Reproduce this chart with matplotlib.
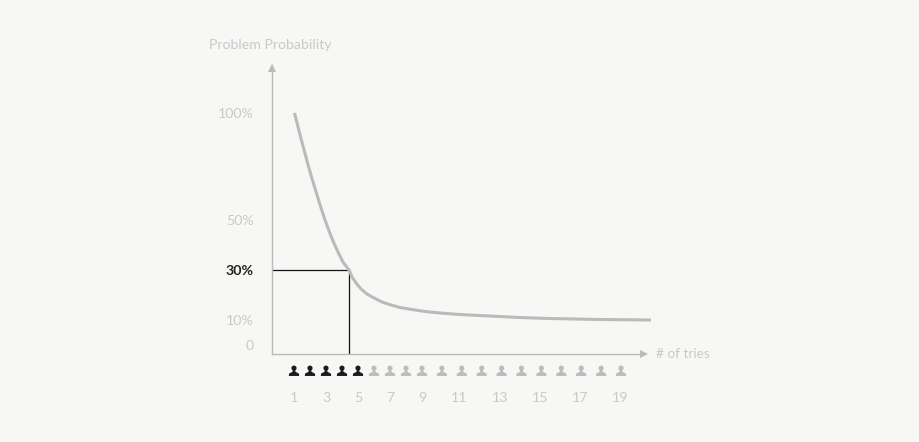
import numpy as np
import matplotlib
matplotlib.use("Agg")
import matplotlib.pyplot as plt
from matplotlib.path import Path

# curve: tries, probability %
curve_x = [1.03, 1.19, 1.38, 1.63, 1.88, 2.13, 2.38, 2.63, 2.94, 3.19, 3.44, 3.75, 4.06,
           4.44, 4.63, 4.88, 5.19, 5.56, 6.0, 6.5, 7.06, 7.63, 8.38, 9.15, 9.9, 10.9,
           11.9, 12.9, 13.9, 15.4, 17.9, 20.5]
curve_y = [100, 95.3, 89.7, 82.7, 75.7, 69.2, 63.1, 57.0, 50, 45.6, 41.6, 37.2, 33.2,
           30, 27.2, 24.8, 22.4, 20.4, 18.8, 17.2, 16, 15, 14.2, 13.4, 12.8, 12.2,
           11.8, 11.4, 11, 10.6, 10.2, 10]

y_ticks = [0, 10, 30, 50, 100]
y_labels = ["0", "10%", "30%", "50%", "100%"]
x_ticks = [1, 3, 5, 7, 9, 10.85, 12.9, 14.95, 16.95, 18.95]
x_labels = ["1", "3", "5", "7", "9", "11", "13", "15", "17", "19"]
people = list(range(1, 20))
dark_people = 5
mark_x = 4.44
mark_y = 30

# the original axes are not evenly spaced, these anchors tie values to pixels
x_val = [-0.375, 1, 9, 19, 20.5]
x_px = [272, 294, 422, 621, 651]
y_val = [-3.6, 0, 50, 100, 122.4]
y_px = [354, 345, 220, 113, 65]


def stretch(v, a, b):
    return np.interp(np.asarray(v, dtype=float), a, b)


GREY = "#c9c9c9"
LINE = "#bababa"
BG = "#f7f7f6"

plt.rcParams["font.family"] = ["Lato", "DejaVu Sans"]

fig = plt.figure(figsize=(9.2, 4.42), dpi=100, facecolor=BG)
ax = fig.add_axes([272 / 920, 1 - 354 / 442, (651 - 272) / 920, (354 - 65) / 442])
ax.set_facecolor("none")
y_up = [-p for p in y_px]
ax.set_xscale("function", functions=(lambda v: stretch(v, x_val, x_px),
                                     lambda v: stretch(v, x_px, x_val)))
ax.set_yscale("function", functions=(lambda v: stretch(v, y_val, y_up),
                                     lambda v: stretch(v, y_up, y_val)))
ax.set_xlim(x_val[0], x_val[-1])
ax.set_ylim(y_val[0], y_val[-1])

for s in ["top", "right"]:
    ax.spines[s].set_visible(False)
for s in ["left", "bottom"]:
    ax.spines[s].set_color(LINE)
    ax.spines[s].set_linewidth(1)
ax.spines["bottom"].set_bounds(x_val[0], 20.2)

ax.plot(curve_x, curve_y, color=LINE, lw=2.2, solid_capstyle="butt", solid_joinstyle="round",
        clip_on=False, zorder=3)

# black guide lines to the curve
ax.plot([x_val[0], mark_x], [mark_y, mark_y], color="#111111", lw=0.9, zorder=2)
ax.plot([mark_x, mark_x], [y_val[0], mark_y], color="#111111", lw=0.9, zorder=2)

ax.set_yticks(y_ticks)
ax.set_yticklabels(y_labels)
ax.tick_params(axis="y", length=0, pad=13, labelsize=10.2, labelcolor=GREY)
ax.get_yticklabels()[2].set_color("#222222")
ax.get_yticklabels()[2].set_fontweight("bold")
ax.set_xticks(x_ticks)
ax.set_xticklabels(x_labels)
ax.tick_params(axis="x", length=0, pad=27, labelsize=10.2, labelcolor=GREY)
ax.minorticks_off()

# arrow heads
ax.plot([0], [0.99], marker="^", ms=6, color=LINE, mew=0, transform=ax.transAxes, clip_on=False)
ax.plot([0.9815], [0], marker=">", ms=6, color=LINE, mew=0, transform=ax.transAxes, clip_on=False)

ax.text(-0.166, 1.069, "Problem Probability", transform=ax.transAxes, color=GREY, fontsize=10.2,
        ha="left", va="center")
ax.text(1.014, 0.0, "# of tries", transform=ax.transAxes, color=GREY, fontsize=9.8,
        ha="left", va="center")

# little person icon
body = Path([(-1, -1), (1, -1), (0.95, -0.55), (0.3, -0.2), (0.2, 0.1), (-0.2, 0.1), (-0.3, -0.2),
             (-0.95, -0.55), (-1, -1)], closed=True)
head = Path.circle((0, 0.5), 0.5)
person = Path.make_compound_path(head, body)
colors = ["#1c1c1c" if p <= dark_people else "#bcbcbc" for p in people]
ax.scatter(people, [-0.058] * len(people), marker=person, s=56, c=colors, linewidths=0,
           transform=ax.get_xaxis_transform(), clip_on=False)

fig.savefig("out.png", dpi=100, facecolor=BG)
